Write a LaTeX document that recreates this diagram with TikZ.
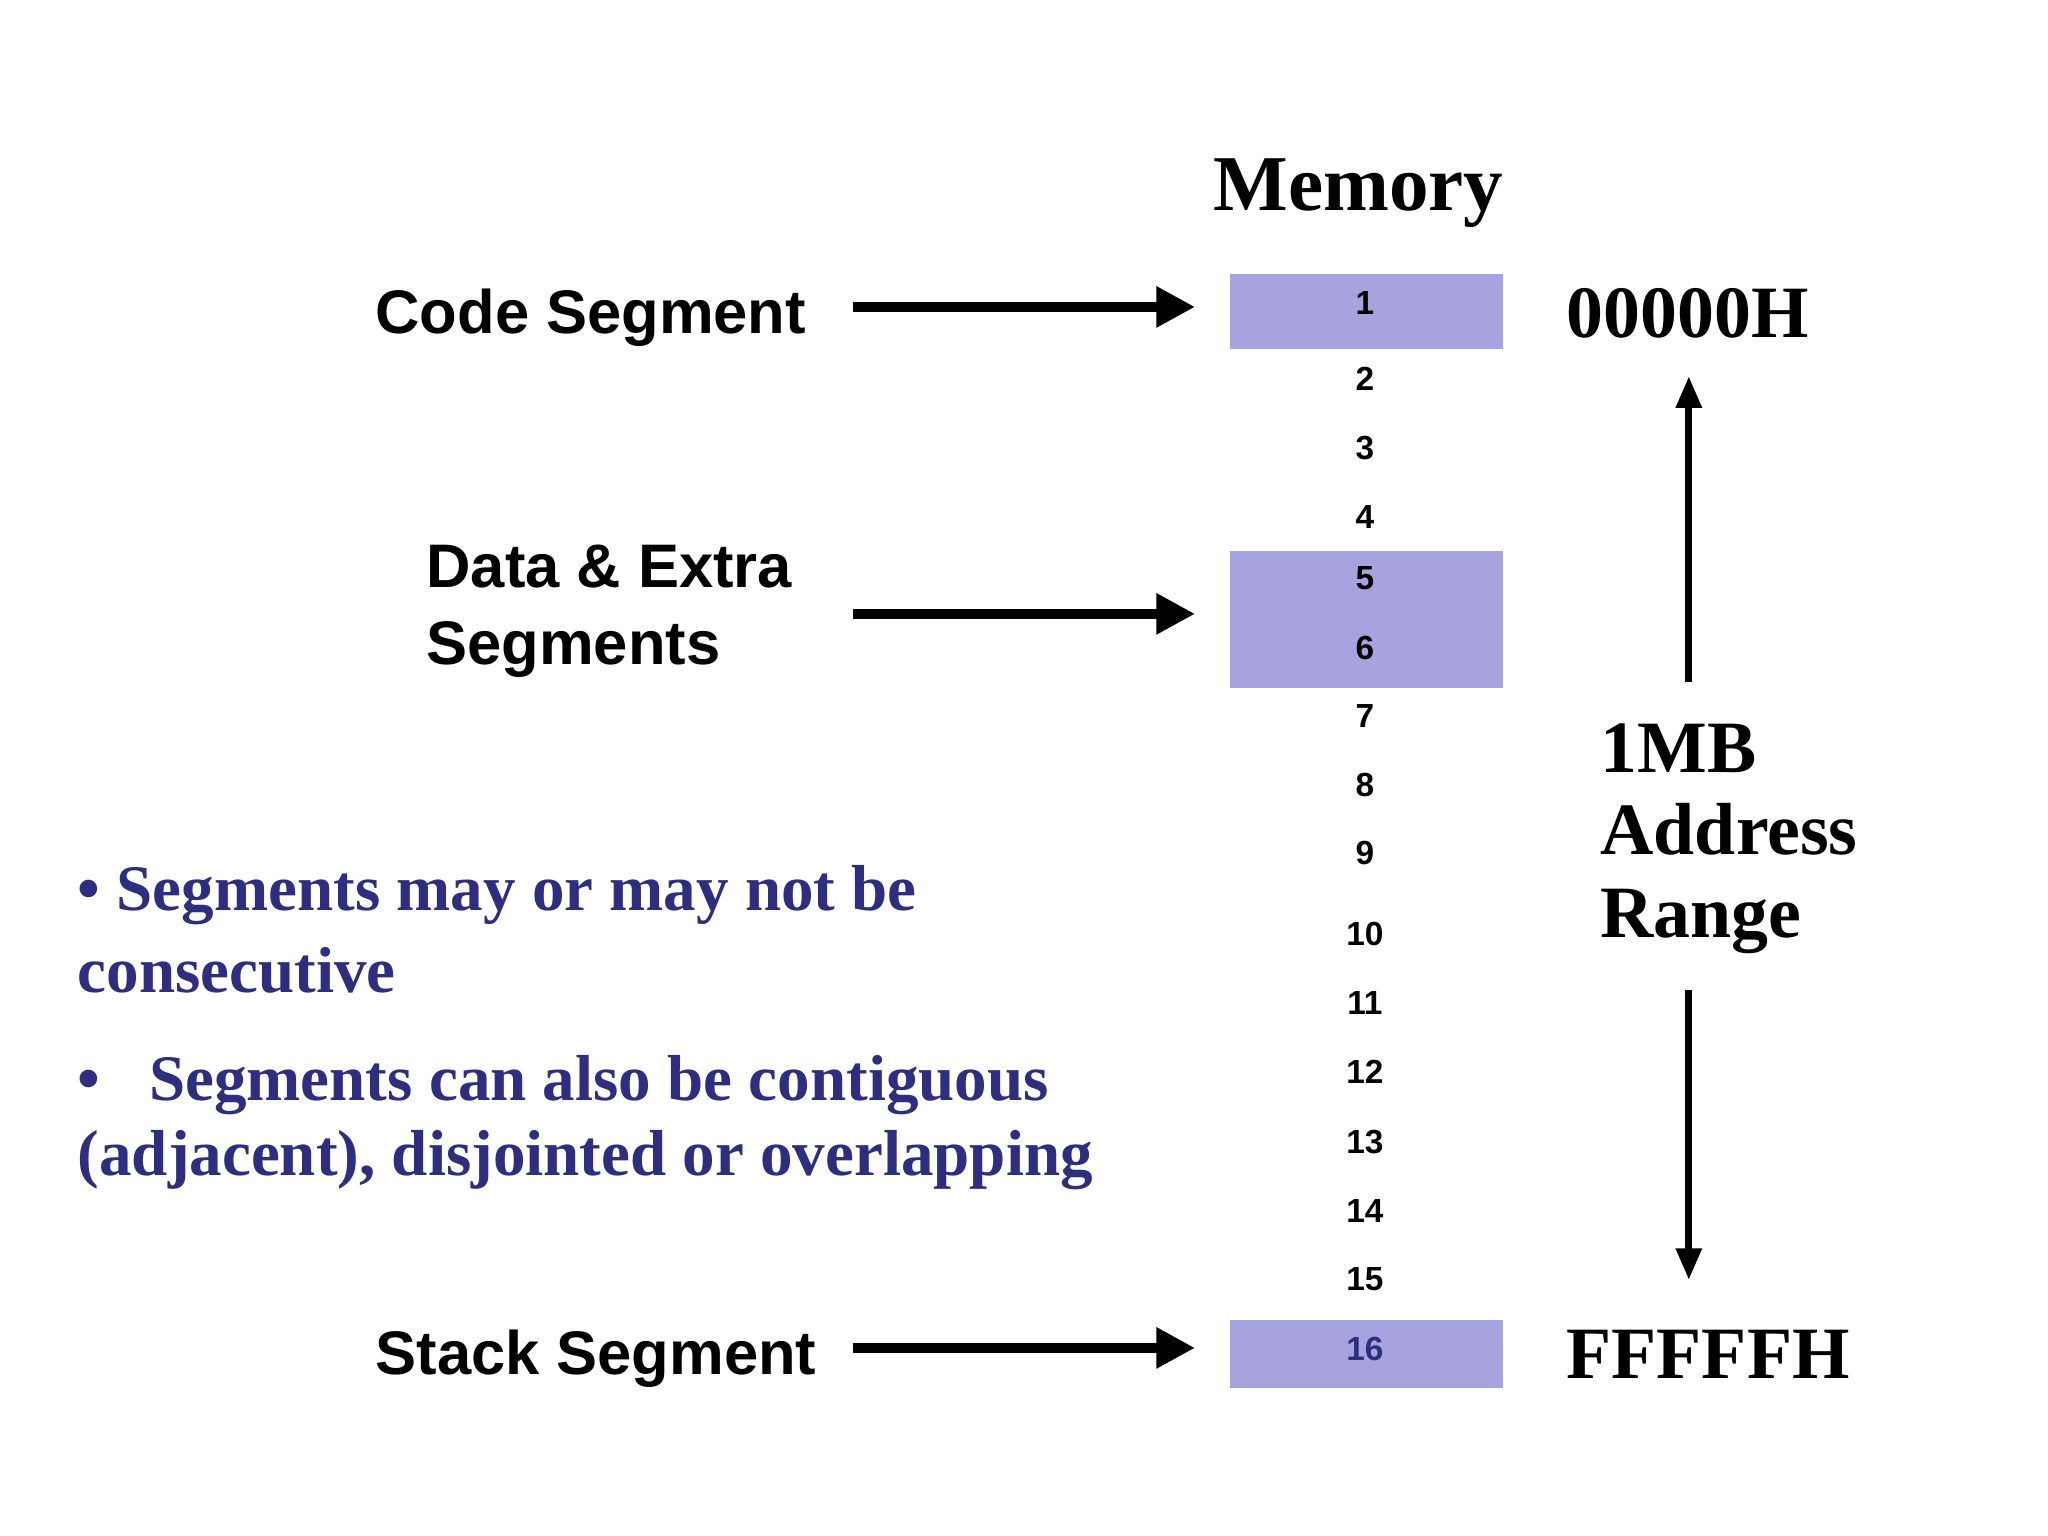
\documentclass[tikz,border=0pt]{standalone}
\usepackage{fontspec}
\setmainfont{Liberation Serif}
\newfontfamily\arialfont{Liberation Sans}
\usetikzlibrary{arrows.meta}
\definecolor{cellfill}{HTML}{A6A3DE}
\definecolor{notecol}{HTML}{2E2E80}
\begin{document}
\begin{tikzpicture}[x=0.01306cm, y=-0.01306cm]

\tikzstyle{cell} = [rectangle, fill=cellfill, inner sep=0pt, anchor=north west]
\tikzstyle{num} = [font=\arialfont\bfseries\fontsize{9.5}{11}\selectfont]
\tikzstyle{seg} = [anchor=west, font=\arialfont\bfseries\fontsize{17.5}{22}\selectfont, align=left]
\tikzstyle{addr} = [anchor=west, font=\bfseries\fontsize{21}{25}\selectfont, align=left]
\tikzstyle{note} = [anchor=west, font=\bfseries\fontsize{18.5}{22}\selectfont, text=notecol]
\tikzstyle{ptr} = [line width=3pt, -{Triangle[length=11pt, width=11pt]}]
\tikzstyle{span} = [line width=2pt, -{Triangle[length=9pt, width=7pt]}]

\useasboundingbox (0,0) rectangle (1568,1176);

\node[font=\bfseries\fontsize{22.5}{27}\selectfont] (title) at (1040,148) {Memory};

\node[cell, minimum width=209*0.01306cm, minimum height=58*0.01306cm] (c1) at (941,209) {};
\node[cell, minimum width=209*0.01306cm, minimum height=105*0.01306cm] (c56) at (941,421) {};
\node[cell, minimum width=209*0.01306cm, minimum height=52*0.01306cm] (c16) at (941,1010) {};

\foreach \i/\y in {1/232, 2/290, 3/343, 4/396, 5/443, 6/496, 7/548, 8/601,
                   9/653, 10/715, 11/768, 12/821, 13/874, 14/927, 15/979}
  \node[num] (n\i) at (1045,\y) {\i};
\node[num, text=notecol] (n16) at (1045,1033) {16};

\node[seg] (code) at (278,243) {Code Segment};
\node[seg] (data) at (317,468) {Data \& Extra\\Segments};
\node[seg] (stack) at (278,1040) {Stack Segment};

\coordinate (cs) at (653,235);
\coordinate (ce) at (915,235);
\coordinate (ds) at (653,470);
\coordinate (de) at (915,470);
\coordinate (ss) at (653,1032);
\coordinate (se) at (915,1032);
\draw[ptr] (cs) -- (ce);
\draw[ptr] (ds) -- (de);
\draw[ptr] (ss) -- (se);

\node[addr] (top) at (1190,240) {00000H};
\node[addr] (bot) at (1190,1037) {FFFFFH};
\node[addr, font=\bfseries\fontsize{21}{23.5}\selectfont] (size) at (1216,642) {1MB\\Address\\Range};

\coordinate (u1) at (1293,522);
\coordinate (u2) at (1293,288);
\coordinate (d1) at (1293,758);
\coordinate (d2) at (1293,980);
\draw[span] (u1) -- (u2);
\draw[span] (d1) -- (d2);

\node[note] (b1) at (50,685) {\textbullet\ Segments may or may not be};
\node[note] (b1b) at (50,743) {consecutive};
\node[note] (b2) at (50,831) {\textbullet\ \ \ Segments can also be contiguous};
\node[note] (b2b) at (50,888) {(adjacent), disjointed or overlapping};

\end{tikzpicture}
\end{document}
